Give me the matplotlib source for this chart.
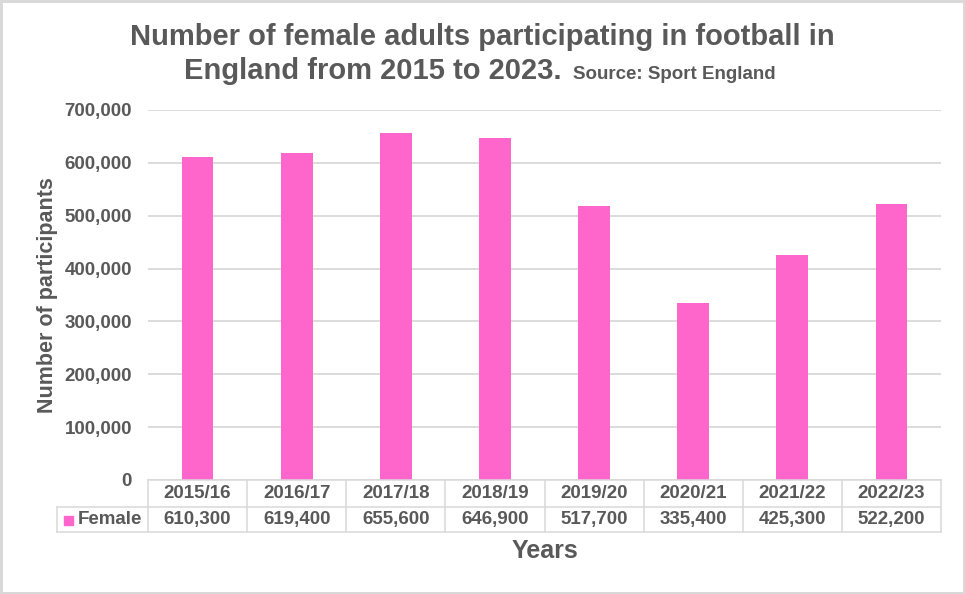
import matplotlib.pyplot as plt
from matplotlib.patches import Rectangle
from matplotlib.ticker import FuncFormatter

plt.rcParams['font.family'] = ['Liberation Sans', 'DejaVu Sans']

years = ['2015/16', '2016/17', '2017/18', '2018/19', '2019/20', '2020/21', '2021/22', '2022/23']
female = [610300, 619400, 655600, 646900, 517700, 335400, 425300, 522200]

pink = '#FF66CC'
grey = '#595959'
line = '#D9D9D9'

fig = plt.figure(figsize=(9.65, 5.94), dpi=100, edgecolor=line, linewidth=2.5)
ax = fig.add_axes([148 / 965, 1 - 480 / 594, 793 / 965, 370 / 594])

x = list(range(len(years)))
ax.bar(x, female, width=0.32, color=pink, zorder=3)
ax.set_xlim(-0.5, len(years) - 0.5)
ax.set_ylim(0, 700000)
ax.set_yticks(range(0, 700001, 100000))
ax.yaxis.set_major_formatter(FuncFormatter(lambda v, p: f'{int(v):,}'))
ax.grid(axis='y', color=line, linewidth=1.3, zorder=0)
ax.set_xticks([])
for s in ax.spines.values():
    s.set_visible(False)
ax.tick_params(axis='y', length=0, pad=11.5, labelsize=13.5, labelcolor=grey)
for lab in ax.get_yticklabels():
    lab.set_fontweight('bold')

ax.set_ylabel('Number of participants', fontsize=15.5, fontweight='bold', color=grey, labelpad=5)
ax.set_xlabel('Years', fontsize=18, fontweight='bold', color=grey, va='center')
ax.xaxis.set_label_coords(0.5, -(551 - 480) / 370)

# data table under the plot (axes coordinates)
n = len(years)
y_top, y_mid, y_bot = 0, -(506.5 - 480) / 370, -(532 - 480) / 370
x_lab = (57.5 - 148) / 793
kw = dict(transform=ax.transAxes, color=line, linewidth=1.1, clip_on=False, zorder=4)
ax.plot([0, 1], [y_top, y_top], **kw)
ax.plot([x_lab, 1], [y_mid, y_mid], **kw)
ax.plot([x_lab, 1], [y_bot, y_bot], **kw)
ax.plot([x_lab, x_lab], [y_mid, y_bot], **kw)
for j in range(n + 1):
    ax.plot([j / n, j / n], [y_top, y_bot], **kw)
tkw = dict(transform=ax.transAxes, ha='center', va='center', fontsize=13.5,
           fontweight='bold', color=grey)
for j in range(n):
    ax.text((j + 0.5) / n, (y_top + y_mid) / 2, years[j], **tkw)
    ax.text((j + 0.5) / n, (y_mid + y_bot) / 2, f'{female[j]:,}', **tkw)
ax.text((78 - 148) / 793, (y_mid + y_bot) / 2, 'Female', transform=ax.transAxes,
        ha='left', va='center', fontsize=13.5, fontweight='bold', color=grey)
ax.add_patch(Rectangle(((64 - 148) / 793, -(525 - 480) / 370), 9 / 793, 9 / 370,
                       transform=ax.transAxes, color=pink, clip_on=False))

fig.text(482 / 965, 1 - 45 / 594, 'Number of female adults participating in football in',
         ha='center', va='baseline', fontsize=21, fontweight='bold', color=grey)
fig.text(562 / 965, 1 - 79 / 594, 'England from 2015 to 2023.',
         ha='right', va='baseline', fontsize=21, fontweight='bold', color=grey)
fig.text(573 / 965, 1 - 79 / 594, 'Source: Sport England',
         ha='left', va='baseline', fontsize=13.5, fontweight='bold', color=grey)

fig.savefig('out.png', dpi=100)
